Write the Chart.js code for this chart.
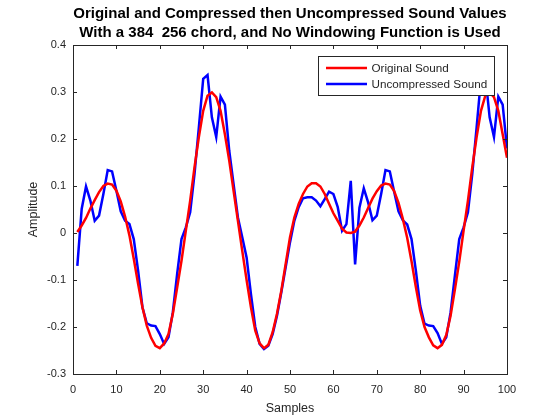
<!DOCTYPE html>
<html>
<head>
<meta charset="utf-8">
<script src="https://cdn.jsdelivr.net/npm/chart.js@4.4.1/dist/chart.umd.min.js"></script>
<style>
  html, body { margin: 0; padding: 0; background: #fff; }
  #wrap { width: 560px; height: 420px; }
</style>
</head>
<body>
<div id="wrap"><canvas id="c"></canvas></div>
<script>
const titleLines = ['Original and Compressed then Uncompressed Sound Values',
                    'With a 384  256 chord, and No Windowing Function is Used']

const samples = [
  1, 2, 3, 4, 5, 6, 7, 8, 9, 10, 11, 12, 13, 14, 15, 16, 17, 18, 19, 20,
  21, 22, 23, 24, 25, 26, 27, 28, 29, 30, 31, 32, 33, 34, 35, 36, 37, 38, 39, 40,
  41, 42, 43, 44, 45, 46, 47, 48, 49, 50, 51, 52, 53, 54, 55, 56, 57, 58, 59, 60,
  61, 62, 63, 64, 65, 66, 67, 68, 69, 70, 71, 72, 73, 74, 75, 76, 77, 78, 79, 80,
  81, 82, 83, 84, 85, 86, 87, 88, 89, 90, 91, 92, 93, 94, 95, 96, 97, 98, 99, 100]

const original = [
  0.002, 0.016, 0.032, 0.052, 0.070, 0.087, 0.100, 0.105, 0.103, 0.090,
  0.067, 0.035, -0.005, -0.055, -0.108, -0.158, -0.197, -0.223, -0.240, -0.245,
  -0.235, -0.215, -0.172, -0.116, -0.059, 0.005, 0.069, 0.140, 0.204, 0.260,
  0.292, 0.299, 0.289, 0.260, 0.210, 0.154, 0.090, 0.026, -0.038, -0.100,
  -0.158, -0.208, -0.235, -0.245, -0.238, -0.211, -0.172, -0.123, -0.066, -0.009,
  0.033, 0.062, 0.083, 0.099, 0.106, 0.106, 0.099, 0.083, 0.062, 0.042,
  0.026, 0.009, 0.001, 0.000, 0.003, 0.016, 0.033, 0.053, 0.073, 0.089,
  0.101, 0.105, 0.103, 0.089, 0.064, 0.030, -0.010, -0.060, -0.115, -0.165,
  -0.200, -0.222, -0.239, -0.245, -0.238, -0.217, -0.176, -0.120, -0.061, 0.005,
  0.069, 0.140, 0.204, 0.260, 0.292, 0.299, 0.289, 0.260, 0.210, 0.160]

const uncompressed = [
  -0.070, 0.051, 0.099, 0.069, 0.026, 0.037, 0.083, 0.134, 0.131, 0.090,
  0.046, 0.026, 0.019, -0.013, -0.080, -0.158, -0.192, -0.197, -0.198, -0.215,
  -0.236, -0.222, -0.169, -0.087, -0.013, 0.012, 0.044, 0.126, 0.225, 0.328,
  0.336, 0.246, 0.204, 0.290, 0.273, 0.175, 0.104, 0.033, -0.009, -0.052,
  -0.130, -0.200, -0.236, -0.247, -0.240, -0.215, -0.176, -0.126, -0.073, -0.020,
  0.026, 0.055, 0.074, 0.076, 0.076, 0.069, 0.057, 0.072, 0.088, 0.083,
  0.055, 0.005, 0.019, 0.111, -0.067, 0.054, 0.095, 0.065, 0.027, 0.037,
  0.083, 0.134, 0.131, 0.088, 0.046, 0.027, 0.018, -0.013, -0.080, -0.155,
  -0.193, -0.197, -0.198, -0.213, -0.236, -0.222, -0.169, -0.090, -0.013, 0.012,
  0.044, 0.126, 0.225, 0.328, 0.336, 0.246, 0.204, 0.290, 0.273, 0.180]

const xTicks = [0, 10, 20, 30, 40, 50, 60, 70, 80, 90, 100]
const yTicks = [-0.3, -0.2, -0.1, 0, 0.1, 0.2, 0.3, 0.4]

const axisColor = '#262626'
const fontFam = '"Liberation Sans", Arial, Helvetica, sans-serif'

function points(ys){
  return samples.map((s,i) => ({x: s, y: ys[i]}))
}

// matlab style box with inward ticks, title and legend inside the axes
const matlabAxes = {
  id: 'matlabAxes',
  afterDatasetsDraw(chart){
    const {ctx, chartArea: a, scales: {x, y}} = chart
    ctx.save()
    ctx.strokeStyle = axisColor
    ctx.lineWidth = 1
    ctx.strokeRect(Math.round(a.left)+0.5, Math.round(a.top)+0.5,
                   Math.round(a.right-a.left), Math.round(a.bottom-a.top))
    const tl = 4
    ctx.beginPath()
    for (const v of xTicks){
      const px = Math.round(x.getPixelForValue(v))+0.5
      ctx.moveTo(px, a.bottom); ctx.lineTo(px, a.bottom-tl)
      ctx.moveTo(px, a.top); ctx.lineTo(px, a.top+tl)
    }
    for (const v of yTicks){
      const py = Math.round(y.getPixelForValue(v))+0.5
      ctx.moveTo(a.left, py); ctx.lineTo(a.left+tl, py)
      ctx.moveTo(a.right, py); ctx.lineTo(a.right-tl, py)
    }
    ctx.stroke()

    // title
    const cx = (a.left + a.right) / 2
    ctx.fillStyle = '#000'
    ctx.font = 'bold 15px ' + fontFam
    ctx.textAlign = 'center'
    ctx.textBaseline = 'alphabetic'
    ctx.fillText(titleLines[0], cx, 17.5)
    ctx.fillText(titleLines[1], cx, 36.5)

    // legend
    const lx = 318.5, ly = 56.5, lw = 176, lh = 39
    ctx.fillStyle = '#fff'
    ctx.fillRect(lx, ly, lw, lh)
    ctx.strokeStyle = axisColor
    ctx.strokeRect(lx, ly, lw, lh)
    ctx.font = '11.7px ' + fontFam
    ctx.textAlign = 'left'
    ctx.textBaseline = 'middle'
    chart.data.datasets.forEach((ds, i) => {
      const yy = 68 + i * 16
      ctx.strokeStyle = ds.borderColor
      ctx.lineWidth = 2.5
      ctx.beginPath()
      ctx.moveTo(326, yy); ctx.lineTo(367, yy)
      ctx.stroke()
      ctx.fillStyle = axisColor
      ctx.fillText(ds.label, 371.5, yy + 0.5)
    })
    ctx.restore()
  }
}

new Chart(document.getElementById('c'), {
  type: 'line',
  data: {
    datasets: [
      {label: 'Original Sound', data: points(original), borderColor: '#ff0000',
       borderWidth: 2.5, pointRadius: 0, tension: 0, fill: false},
      {label: 'Uncompressed Sound', data: points(uncompressed), borderColor: '#0000ff',
       borderWidth: 2.5, pointRadius: 0, tension: 0, fill: false},
    ]
  },
  options: {
    responsive: true,
    maintainAspectRatio: false,
    animation: false,
    layout: { padding: {left: 0, right: 53, top: 45, bottom: 0} },
    plugins: { legend: {display: false}, title: {display: false}, tooltip: {enabled: false} },
    scales: {
      x: {
        type: 'linear', min: 0, max: 100,
        afterFit(s){ s.height = 46 },
        afterBuildTicks(s){ s.ticks = xTicks.map(v => ({value: v})) },
        grid: {display: false, drawTicks: false},
        border: {display: false},
        ticks: {color: axisColor, padding: 9, maxRotation: 0, autoSkip: false,
                font: {family: fontFam, size: 11}},
        title: {display: true, text: 'Samples', color: axisColor,
                font: {family: fontFam, size: 12.5}, padding: {top: 0, bottom: 4}}
      },
      y: {
        type: 'linear', min: -0.3, max: 0.4,
        afterFit(s){ s.width = 73 },
        afterBuildTicks(s){ s.ticks = yTicks.map(v => ({value: v})) },
        grid: {display: false, drawTicks: false},
        border: {display: false},
        ticks: {color: axisColor, padding: 7, autoSkip: false,
                font: {family: fontFam, size: 11},
                callback: v => String(Math.round(v * 10) / 10)},
        title: {display: true, text: 'Amplitude', color: axisColor,
                font: {family: fontFam, size: 12.5}, padding: {top: 26, bottom: 0}}
      }
    }
  },
  plugins: [matlabAxes]
})
</script>
</body>
</html>
